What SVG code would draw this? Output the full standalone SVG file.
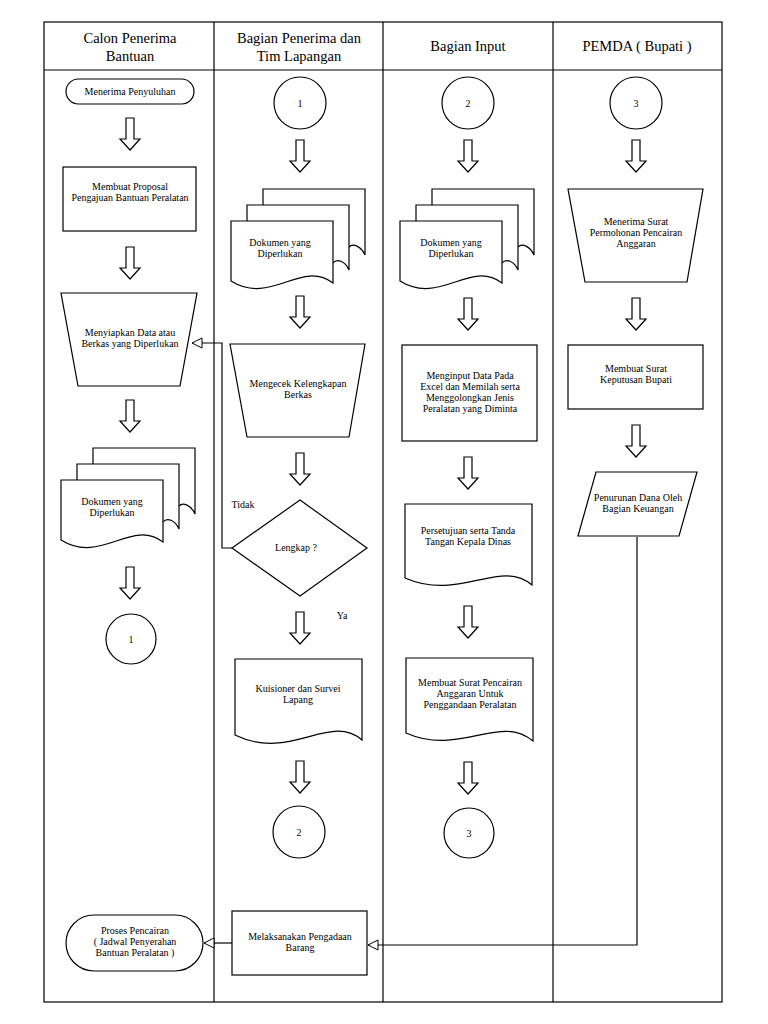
<svg xmlns="http://www.w3.org/2000/svg" width="768" height="1024" viewBox="0 0 768 1024">
<style>
.s{fill:#fff;stroke:#000;stroke-width:1.2}
.l{fill:none;stroke:#000;stroke-width:1.2}
text{font-family:"Liberation Serif","Times New Roman","DejaVu Serif",serif;font-size:10px;text-anchor:middle;fill:#000}
.h{font-size:14.5px}
</style>
<defs>
<path id="ar" class="s" d="M-4,0 H4 V21 H10 L0,32 L-10,21 H-4 Z"/>
<marker id="tri" viewBox="0 0 12 12" refX="11" refY="6" markerWidth="12" markerHeight="12" markerUnits="userSpaceOnUse" orient="auto">
<path d="M1,1 L11,6 L1,11 Z" fill="#fff" stroke="#000" stroke-width="1"/>
</marker>
</defs>
<rect x="0" y="0" width="768" height="1024" fill="#fff"/>
<g id="frame">
<rect class="l" x="44" y="22" width="678" height="980"/>
<line class="l" x1="44" y1="70" x2="722" y2="70"/>
<line class="l" x1="214" y1="22" x2="214" y2="1002"/>
<line class="l" x1="383" y1="22" x2="383" y2="1002"/>
<line class="l" x1="553" y1="22" x2="553" y2="1002"/>
<text class="h" x="130" y="43">Calon Penerima</text>
<text class="h" x="130" y="61">Bantuan</text>
<text class="h" x="299" y="43">Bagian Penerima dan</text>
<text class="h" x="299" y="61">Tim Lapangan</text>
<text class="h" x="468" y="51">Bagian Input</text>
<text class="h" x="637" y="51">PEMDA ( Bupati )</text>
</g>
<g id="connectors">
<use href="#ar" x="130" y="118"/><use href="#ar" x="130" y="247"/><use href="#ar" x="130" y="400"/><use href="#ar" x="130" y="567"/>
<use href="#ar" x="300" y="140"/><use href="#ar" x="300" y="296"/><use href="#ar" x="300" y="453"/><use href="#ar" x="300" y="612"/><use href="#ar" x="300" y="761"/>
<use href="#ar" x="468" y="140"/><use href="#ar" x="468" y="298"/><use href="#ar" x="468" y="457"/><use href="#ar" x="468" y="606"/><use href="#ar" x="468" y="762"/>
<use href="#ar" x="636" y="140"/><use href="#ar" x="636" y="298"/><use href="#ar" x="636" y="425"/>
<path class="l" d="M232,548 H222 V343 H192" marker-end="url(#tri)"/>
<path class="l" d="M232,943 H204" marker-end="url(#tri)"/>
<path class="l" d="M637,537 V945 H368" marker-end="url(#tri)"/>
<text x="243" y="508">Tidak</text>
<text x="342" y="619">Ya</text>
</g>
<g id="n1"><rect class="s" x="66" y="79" width="128" height="25" rx="12.5"/><text x="130" y="95">Menerima Penyuluhan</text></g>
<g id="n2"><rect class="s" x="63" y="167" width="133" height="64"/><text x="130" y="190">Membuat Proposal</text><text x="130" y="201">Pengajuan Bantuan Peralatan</text></g>
<g id="n3"><path class="s" d="M61,293 H197 L180,386 H78 Z"/><text x="130" y="336">Menyiapkan Data atau</text><text x="130" y="347">Berkas yang Diperlukan</text></g>
<g id="n4">
<path class="s" d="M93,464 V448 H195 V514 C191,505 183,502 179,506"/>
<path class="s" d="M77,480 V464 H179 V529 C175,520 167,517 163,522"/>
<path class="s" d="M61,480 H163 V542 C131,518 101,565 61,540 Z"/>
<text x="112" y="505">Dokumen yang</text><text x="112" y="516">Diperlukan</text></g>
<g id="n5"><circle class="s" cx="131" cy="639" r="25"/><text x="131" y="643">1</text></g>
<g id="n6"><rect class="s" x="66" y="915" width="137" height="56" rx="28"/><text x="135" y="934">Proses Pencairan</text><text x="135" y="945">( Jadwal Penyerahan</text><text x="135" y="956">Bantuan Peralatan )</text></g>
<g id="n7"><circle class="s" cx="300" cy="103" r="26"/><text x="300" y="107">1</text></g>
<g id="n8">
<path class="s" d="M263,205 V189 H365 V255 C361,246 353,243 349,247"/>
<path class="s" d="M247,221 V205 H349 V270 C345,261 337,258 333,263"/>
<path class="s" d="M231,221 H333 V283 C301,259 271,306 231,281 Z"/>
<text x="280" y="246">Dokumen yang</text><text x="280" y="257">Diperlukan</text></g>
<g id="n9"><path class="s" d="M230,344 H365 L349,437 H247 Z"/><text x="298" y="387">Mengecek Kelengkapan</text><text x="298" y="398">Berkas</text></g>
<g id="n10"><path class="s" d="M300,500 L367,548 L300,596 L232,548 Z"/><text x="296" y="551">Lengkap ?</text></g>
<g id="n11"><path class="s" d="M235,659 H362 V740 C330,712 290,762 235,735 Z"/><text x="298" y="692">Kuisioner dan Survei</text><text x="298" y="703">Lapang</text></g>
<g id="n12"><circle class="s" cx="299" cy="832" r="26"/><text x="299" y="836">2</text></g>
<g id="n13"><rect class="s" x="232" y="911" width="135" height="64"/><text x="300" y="940">Melaksanakan Pengadaan</text><text x="300" y="951">Barang</text></g>
<g id="n14"><circle class="s" cx="468" cy="103" r="26"/><text x="468" y="107">2</text></g>
<g id="n15">
<path class="s" d="M432,205 V189 H534 V255 C530,246 522,243 518,247"/>
<path class="s" d="M416,221 V205 H518 V270 C514,261 506,258 502,263"/>
<path class="s" d="M400,221 H502 V283 C470,259 440,306 400,281 Z"/>
<text x="451" y="246">Dokumen yang</text><text x="451" y="257">Diperlukan</text></g>
<g id="n16"><rect class="s" x="402" y="345" width="135" height="96"/><text x="470" y="379">Menginput Data Pada</text><text x="470" y="390">Excel dan Memilah serta</text><text x="470" y="401">Menggolongkan Jenis</text><text x="470" y="412">Peralatan yang Diminta</text></g>
<g id="n17"><path class="s" d="M405,504 H532 V585 C500,558 460,602 405,578 Z"/><text x="468" y="534">Persetujuan serta Tanda</text><text x="468" y="545">Tangan Kepala Dinas</text></g>
<g id="n18"><path class="s" d="M406,658 H533 V741 C500,713 460,757 406,733 Z"/><text x="470" y="686">Membuat Surat Pencairan</text><text x="470" y="697">Anggaran Untuk</text><text x="470" y="708">Penggandaan Peralatan</text></g>
<g id="n19"><circle class="s" cx="469" cy="833" r="25"/><text x="469" y="837">3</text></g>
<g id="n20"><circle class="s" cx="636" cy="103" r="26"/><text x="636" y="107">3</text></g>
<g id="n21"><path class="s" d="M568,189 H703 L687,282 H585 Z"/><text x="636" y="225">Menerima Surat</text><text x="636" y="236">Permohonan Pencairan</text><text x="636" y="247">Anggaran</text></g>
<g id="n22"><rect class="s" x="568" y="345" width="135" height="64"/><text x="636" y="372">Membuat Surat</text><text x="636" y="383">Keputusan Bupati</text></g>
<g id="n23"><path class="s" d="M596,472 H697 L679,536 H578 Z"/><text x="638" y="501">Penurunan Dana Oleh</text><text x="638" y="512">Bagian Keuangan</text></g>
</svg>
